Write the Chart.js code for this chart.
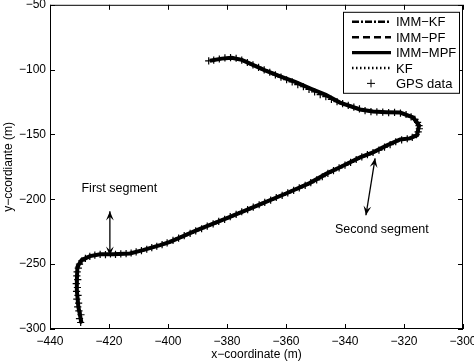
<!DOCTYPE html>
<html>
<head>
<meta charset="utf-8">
<script src="https://cdn.jsdelivr.net/npm/chart.js@4/dist/chart.umd.min.js"></script>
<style>
  html, body { margin: 0; padding: 0; background: #fff; }
  #wrap { width: 474px; height: 362px; }
</style>
</head>
<body>
<div id="wrap"><canvas id="traj" width="474" height="362"></canvas></div>
<script>
// estimated trajectory (all four filters overlap in the figure), metres
const estX = [-429.3, -430.4, -430.9, -430.9, -430.7, -429.3, -426.4, -423.0, -418.6, -412.9, -408.5, -402.7, -399.3,
  -390.0, -380.0, -370.0, -360.0, -352.0, -346.1, -341.7, -334.9, -330.5, -325.8, -321.3, -318.0, -315.6, -314.9,
  -316.9, -321.3, -326.0, -330.5, -334.9, -341.7, -346.5, -351.3, -356.9, -361.5, -367.1, -371.6, -375.0, -378.4, -381.8, -385.8];
const estY = [-295.5, -282.8, -270.0, -262.2, -252.0, -246.9, -243.8, -242.3, -242.3, -241.7, -239.2, -235.3, -232.8,
  -223.5, -214.5, -205.0, -195.5, -187.5, -180.0, -175.3, -167.7, -163.8, -158.4, -153.8, -153.0, -150.7, -143.1,
  -136.9, -133.1, -132.8, -132.3, -130.7, -125.4, -119.5, -115.0, -109.5, -105.5, -100.5, -96.0, -92.5, -90.8, -91.5, -93.1];

// GPS fixes
const gpsX = [-429.6, -430.0, -429.5, -430.2, -430.6, -430.3, -430.9, -430.5, -431.0, -430.7, -431.1, -430.6, -430.9, -430.8, -430.4, -430.0, -429.2,
  -428.0, -426.5, -424.8, -423.0, -421.2, -419.5, -417.8, -416.0, -414.2, -412.5, -410.8, -409.0, -407.2, -405.5, -403.8, -402.0, -400.3,
  -398.3, -396.4, -394.5, -392.5, -390.6, -388.6, -386.7, -384.7, -382.8, -380.8, -378.9, -376.9, -375.0, -373.0, -371.1, -369.1, -367.2,
  -365.2, -363.3, -361.3, -359.4, -357.4, -355.5, -353.5, -351.6, -349.6, -347.7, -345.8, -343.9, -342.0, -340.0, -338.1, -336.2, -334.3,
  -332.4, -330.5, -328.5, -326.6, -324.7, -322.8, -320.8, -318.9, -317.2, -315.8, -315.2, -314.8, -314.9, -315.4, -316.3, -317.6, -319.3,
  -321.2, -323.2, -325.2, -327.2, -329.2, -331.2, -333.2, -335.1, -337.0, -338.9, -340.8, -342.7, -344.6, -346.5, -348.4, -350.3, -352.2,
  -354.1, -356.0, -357.9, -359.8, -361.7, -363.6, -365.5, -367.4, -369.3, -371.2, -373.1, -375.0, -376.9, -378.8, -380.7, -382.6, -384.5, -386.2];
const gpsY = [-295.0, -292.0, -289.0, -286.0, -283.0, -280.0, -277.0, -274.0, -271.0, -268.0, -265.0, -262.0, -259.0, -256.0, -253.0, -250.0, -247.5,
  -245.5, -244.0, -243.0, -242.4, -242.6, -242.0, -242.5, -242.1, -241.8, -241.4, -240.5, -239.5, -238.5, -237.3, -236.2, -234.9, -233.6,
  -231.6, -229.9, -228.0, -226.3, -224.3, -222.7, -220.6, -219.0, -217.0, -215.4, -213.3, -211.6, -209.6, -208.0, -206.0, -204.2, -202.4,
  -200.6, -198.6, -196.9, -195.0, -193.1, -191.2, -189.3, -187.2, -185.0, -182.6, -180.0, -177.8, -175.8, -173.6, -171.5, -169.3, -167.3,
  -165.6, -163.9, -162.0, -159.8, -157.8, -155.6, -154.2, -153.3, -152.2, -150.2, -148.0, -145.6, -143.2, -140.6, -138.4, -136.4, -134.6,
  -133.5, -133.0, -133.2, -132.7, -132.5, -132.4, -131.6, -130.3, -128.9, -127.6, -126.2, -124.7, -122.9, -120.8, -119.2, -117.2, -115.3,
  -113.2, -111.5, -109.5, -107.8, -105.7, -104.1, -102.0, -100.2, -98.2, -96.4, -94.5, -92.7, -91.2, -90.7, -91.0, -91.8, -92.6, -93.3];

const xTicks = [-440, -420, -400, -380, -360, -340, -320, -300];
const yTicks = [-300, -250, -200, -150, -100, -50];
const seriesNames = ['IMM\u2212KF', 'IMM\u2212PF', 'IMM\u2212MPF', 'KF', 'GPS data'];

const FONT = '"Liberation Sans", Arial, Helvetica, sans-serif';
const pts = (xs, ys) => xs.map((x, i) => ({ x: x, y: ys[i] }));
const minus = v => String(v).replace('-', '\u2212');

function head(ctx, tx, ty, fx, fy) {
  const a = Math.atan2(ty - fy, tx - fx), L = 10, w = 0.4;
  ctx.beginPath();
  ctx.moveTo(tx, ty);
  ctx.lineTo(tx - L * Math.cos(a - w), ty - L * Math.sin(a - w));
  ctx.lineTo(tx - L * 0.55 * Math.cos(a), ty - L * 0.55 * Math.sin(a));
  ctx.lineTo(tx - L * Math.cos(a + w), ty - L * Math.sin(a + w));
  ctx.closePath();
  ctx.fill();
}
function dblArrow(ctx, x1, y1, x2, y2) {
  ctx.beginPath(); ctx.moveTo(x1, y1); ctx.lineTo(x2, y2); ctx.stroke();
  head(ctx, x1, y1, x2, y2); head(ctx, x2, y2, x1, y1);
}

// matlab style box, inward ticks, notes and legend
const decor = {
  id: 'decor',
  afterDraw(chart) {
    const { ctx, chartArea: a, scales: { x, y } } = chart;
    ctx.save();
    ctx.strokeStyle = '#000'; ctx.fillStyle = '#000'; ctx.lineWidth = 1;
    ctx.strokeRect(a.left + 0.5, a.top + 0.5, a.right - a.left - 1, a.bottom - a.top - 1);
    ctx.beginPath();
    xTicks.forEach(v => {
      const p = Math.round(x.getPixelForValue(v)) + 0.5;
      ctx.moveTo(p, a.bottom); ctx.lineTo(p, a.bottom - 5);
      ctx.moveTo(p, a.top); ctx.lineTo(p, a.top + 5);
    });
    yTicks.forEach(v => {
      const p = Math.round(y.getPixelForValue(v)) + 0.5;
      ctx.moveTo(a.left, p); ctx.lineTo(a.left + 5, p);
      ctx.moveTo(a.right, p); ctx.lineTo(a.right - 5, p);
    });
    ctx.stroke();

    // segment notes
    ctx.font = '12.5px ' + FONT;
    ctx.textAlign = 'center'; ctx.textBaseline = 'middle';
    ctx.fillText('First segment', x.getPixelForValue(-416.5), y.getPixelForValue(-191.5));
    ctx.fillText('Second segment', x.getPixelForValue(-327.5), y.getPixelForValue(-223));
    ctx.lineWidth = 1.3;
    dblArrow(ctx, x.getPixelForValue(-419.7), y.getPixelForValue(-209.2), x.getPixelForValue(-419.7), y.getPixelForValue(-243.5));
    dblArrow(ctx, x.getPixelForValue(-329.8), y.getPixelForValue(-168.4), x.getPixelForValue(-332.9), y.getPixelForValue(-212.3));

    // legend box
    const bx = a.right - 120, by = a.top + 7, bw = 116, bh = 81;
    ctx.fillStyle = '#fff';
    ctx.fillRect(bx, by, bw, bh);
    ctx.strokeStyle = '#000'; ctx.lineWidth = 1;
    ctx.strokeRect(bx + 0.5, by + 0.5, bw, bh);
    ctx.fillStyle = '#000';
    ctx.font = '13px ' + FONT;
    ctx.textAlign = 'left';
    chart.data.datasets.forEach((ds, i) => {
      const ly = by + 10 + i * 15.4;
      if (ds.showLine) {
        ctx.save();
        ctx.lineWidth = Math.min(ds.borderWidth, 3.2);
        ctx.setLineDash(ds.borderDash || []);
        ctx.beginPath(); ctx.moveTo(bx + 9, ly); ctx.lineTo(bx + 48, ly); ctx.stroke();
        ctx.restore();
      } else {
        ctx.beginPath();
        ctx.moveTo(bx + 24, ly); ctx.lineTo(bx + 32, ly);
        ctx.moveTo(bx + 28, ly - 4); ctx.lineTo(bx + 28, ly + 4);
        ctx.stroke();
      }
      ctx.fillText(ds.label, bx + 53, ly + 1);
    });
    ctx.restore();
  }
};

const lineSet = (label, dash, width) => ({
  label: label, data: pts(estX, estY), showLine: true, borderColor: '#000', borderWidth: width,
  borderDash: dash, pointRadius: 0, tension: 0, fill: false
});

new Chart(document.getElementById('traj'), {
  type: 'scatter',
  data: {
    datasets: [
      lineSet(seriesNames[0], [7, 2, 2, 2], 2.4),
      lineSet(seriesNames[1], [7, 4], 2.4),
      lineSet(seriesNames[2], [], 4),
      lineSet(seriesNames[3], [1.5, 2.5], 2.4),
      { label: seriesNames[4], data: pts(gpsX, gpsY), showLine: false, pointStyle: 'cross',
        pointRadius: 3.6, borderColor: '#000', borderWidth: 1.2, pointHoverRadius: 3.6 }
    ]
  },
  options: {
    responsive: false,
    animation: false,
    devicePixelRatio: 1,
    layout: { padding: { top: 4, right: 11, left: 0, bottom: 0 } },
    plugins: { legend: { display: false }, tooltip: { enabled: false } },
    scales: {
      x: {
        type: 'linear', min: -440, max: -300,
        grid: { display: false, drawTicks: false }, border: { display: false },
        afterBuildTicks: s => { s.ticks = xTicks.map(v => ({ value: v })); },
        ticks: { color: '#000', padding: 5, maxRotation: 0, autoSkip: false, font: { family: FONT, size: 12 }, callback: minus },
        title: { display: true, text: 'x\u2212coordinate (m)', color: '#000', padding: 0, font: { family: FONT, size: 12 } },
        afterFit: s => { s.height = 33; s.paddingLeft = 0; s.paddingRight = 0; }
      },
      y: {
        type: 'linear', min: -300, max: -50,
        grid: { display: false, drawTicks: false }, border: { display: false },
        afterBuildTicks: s => { s.ticks = yTicks.map(v => ({ value: v })); },
        ticks: { color: '#000', padding: 4, autoSkip: false, font: { family: FONT, size: 12 }, callback: minus },
        title: { display: true, text: 'y\u2212ccordiante (m)', color: '#000', padding: { top: 1, bottom: 0 }, font: { family: FONT, size: 12 } },
        afterFit: s => { s.width = 50; s.paddingTop = 0; s.paddingBottom = 0; }
      }
    }
  },
  plugins: [decor]
});
</script>
</body>
</html>
